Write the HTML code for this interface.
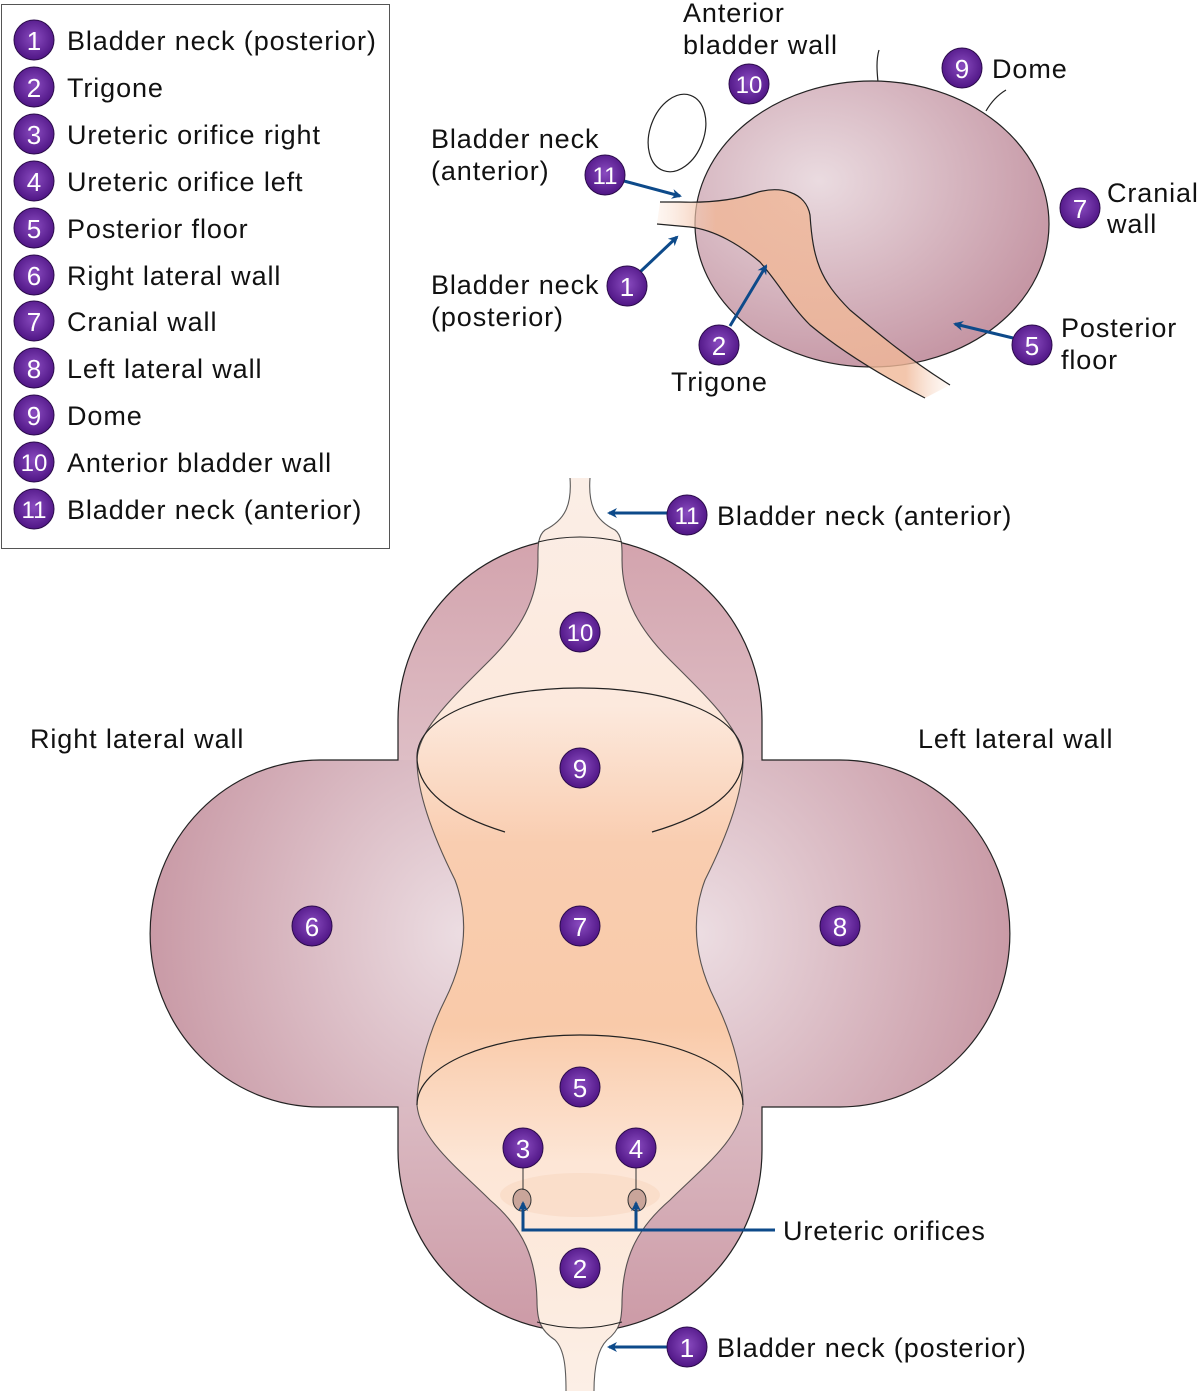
<!DOCTYPE html>
<html><head><meta charset="utf-8"><style>
html,body{margin:0;padding:0;background:#fff;}
svg{display:block;}
text{font-family:"Liberation Sans",sans-serif;}
.t{letter-spacing:0.9px;}
</style></head><body>
<svg width="1200" height="1391" viewBox="0 0 1200 1391" xmlns="http://www.w3.org/2000/svg">
<defs>
<radialGradient id="badge" cx="50%" cy="45%" r="55%"><stop offset="0" stop-color="#8a4cc0"/><stop offset="1" stop-color="#4f1585"/></radialGradient>
<radialGradient id="pinkL" cx="100%" cy="50%" r="100%"><stop offset="0" stop-color="#ecdde2"/><stop offset="1" stop-color="#c99aa6"/></radialGradient>
<radialGradient id="pinkR" cx="0%" cy="50%" r="100%"><stop offset="0" stop-color="#ecdde2"/><stop offset="1" stop-color="#c99aa6"/></radialGradient>
<linearGradient id="pinkV" x1="0" y1="0" x2="0" y2="1"><stop offset="0" stop-color="#d3a3ad"/><stop offset="0.5" stop-color="#e6d3d8"/><stop offset="1" stop-color="#cc9aa6"/></linearGradient>
<linearGradient id="peach" x1="0" y1="0" x2="0" y2="1"><stop offset="0" stop-color="#fbeee6"/><stop offset="0.25" stop-color="#fce9dd"/><stop offset="0.4" stop-color="#f9cdb0"/><stop offset="0.6" stop-color="#f9caa9"/><stop offset="0.75" stop-color="#fde6d6"/><stop offset="1" stop-color="#fcefe6"/></linearGradient>
<radialGradient id="ball" cx="35%" cy="35%" r="70%"><stop offset="0" stop-color="#eadbe0"/><stop offset="1" stop-color="#c596a4"/></radialGradient>
<linearGradient id="band" x1="0" y1="0" x2="1" y2="0"><stop offset="0" stop-color="#fbe3d3" stop-opacity="0.3"/><stop offset="0.2" stop-color="#efb79a" stop-opacity="0.85"/><stop offset="0.85" stop-color="#f0b898" stop-opacity="0.8"/><stop offset="1" stop-color="#fbe3d3" stop-opacity="0.2"/></linearGradient>
<marker id="ah" markerWidth="10" markerHeight="10" refX="8" refY="5" orient="auto" markerUnits="userSpaceOnUse"><path d="M0,0 L10,5 L0,10 L3,5 Z" fill="#0d4a8a"/></marker>
<g id="b"><circle r="20" fill="url(#badge)" stroke="#2c0c4c" stroke-width="1"/></g>
</defs>

<!-- legend -->
<rect x="1.5" y="4.5" width="388" height="544" fill="#fff" stroke="#555" stroke-width="1"/>
<g font-size="27" fill="#111">
<g transform="translate(34,40)"><use href="#b"/><text y="10" text-anchor="middle" fill="#fff" font-size="26">1</text><text class="t" x="33" y="10">Bladder neck (posterior)</text></g>
<g transform="translate(34,87)"><use href="#b"/><text y="10" text-anchor="middle" fill="#fff" font-size="26">2</text><text class="t" x="33" y="10">Trigone</text></g>
<g transform="translate(34,134)"><use href="#b"/><text y="10" text-anchor="middle" fill="#fff" font-size="26">3</text><text class="t" x="33" y="10">Ureteric orifice right</text></g>
<g transform="translate(34,181)"><use href="#b"/><text y="10" text-anchor="middle" fill="#fff" font-size="26">4</text><text class="t" x="33" y="10">Ureteric orifice left</text></g>
<g transform="translate(34,228)"><use href="#b"/><text y="10" text-anchor="middle" fill="#fff" font-size="26">5</text><text class="t" x="33" y="10">Posterior floor</text></g>
<g transform="translate(34,275)"><use href="#b"/><text y="10" text-anchor="middle" fill="#fff" font-size="26">6</text><text class="t" x="33" y="10">Right lateral wall</text></g>
<g transform="translate(34,321)"><use href="#b"/><text y="10" text-anchor="middle" fill="#fff" font-size="26">7</text><text class="t" x="33" y="10">Cranial wall</text></g>
<g transform="translate(34,368)"><use href="#b"/><text y="10" text-anchor="middle" fill="#fff" font-size="26">8</text><text class="t" x="33" y="10">Left lateral wall</text></g>
<g transform="translate(34,415)"><use href="#b"/><text y="10" text-anchor="middle" fill="#fff" font-size="26">9</text><text class="t" x="33" y="10">Dome</text></g>
<g transform="translate(34,462)"><use href="#b"/><text y="9" text-anchor="middle" fill="#fff" font-size="24">10</text><text class="t" x="33" y="10">Anterior bladder wall</text></g>
<g transform="translate(34,509)"><use href="#b"/><text y="9" text-anchor="middle" fill="#fff" font-size="24">11</text><text class="t" x="33" y="10">Bladder neck (anterior)</text></g>
</g>

<!-- top right diagram -->
<ellipse cx="677" cy="133" rx="27" ry="40" transform="rotate(20 677 133)" fill="none" stroke="#222" stroke-width="1.2"/>
<path d="M879,50 C876,60 877,72 878,82" fill="none" stroke="#222" stroke-width="1.2"/>
<path d="M1006,90 C996,96 990,104 986,111" fill="none" stroke="#222" stroke-width="1.2"/>
<ellipse cx="872" cy="224" rx="177" ry="143" fill="url(#ball)" stroke="#222" stroke-width="1.2"/>
<path d="M660,202 L680,202 C710,203 735,200 755,193 C780,185 806,192 810,215 C813,260 820,280 850,310 C880,335 910,360 950,385 L925,398 C880,375 840,350 810,325 C790,305 780,285 760,262 C740,245 715,230 690,227 L657,224 Z" fill="url(#band)"/>
<path d="M660,202 L680,202 C710,203 735,200 755,193 C780,185 806,192 810,215 C813,260 820,280 850,310 C880,335 910,360 950,385" fill="none" stroke="#222" stroke-width="1.2"/>
<path d="M657,224 L690,227 C715,230 740,245 760,262 C780,285 790,305 810,325 C840,350 880,375 925,398" fill="none" stroke="#222" stroke-width="1.2"/>
<g fill="none" stroke="#0d4a8a" stroke-width="3">
<line x1="624" y1="181" x2="680" y2="196" marker-end="url(#ah)"/>
<line x1="640" y1="272" x2="677" y2="237" marker-end="url(#ah)"/>
<line x1="730" y1="326" x2="766" y2="266" marker-end="url(#ah)"/>
<line x1="1013" y1="338" x2="955" y2="324" marker-end="url(#ah)"/>
</g>
<g font-size="27" fill="#111" class="t">
<text x="683" y="22">Anterior</text>
<text x="683" y="54">bladder wall</text>
<text x="431" y="148">Bladder neck</text>
<text x="431" y="180">(anterior)</text>
<text x="431" y="294">Bladder neck</text>
<text x="431" y="326">(posterior)</text>
<text x="671" y="391">Trigone</text>
<text x="992" y="78">Dome</text>
<text x="1107" y="202">Cranial</text>
<text x="1107" y="233">wall</text>
<text x="1061" y="337">Posterior</text>
<text x="1061" y="369">floor</text>
</g>
<g transform="translate(749,84)"><use href="#b"/><text y="9" text-anchor="middle" fill="#fff" font-size="24">10</text></g>
<g transform="translate(962,68)"><use href="#b"/><text y="10" text-anchor="middle" fill="#fff" font-size="26">9</text></g>
<g transform="translate(605,175)"><use href="#b"/><text y="9" text-anchor="middle" fill="#fff" font-size="24">11</text></g>
<g transform="translate(627,286)"><use href="#b"/><text y="10" text-anchor="middle" fill="#fff" font-size="26">1</text></g>
<g transform="translate(719,345)"><use href="#b"/><text y="10" text-anchor="middle" fill="#fff" font-size="26">2</text></g>
<g transform="translate(1080,208)"><use href="#b"/><text y="10" text-anchor="middle" fill="#fff" font-size="26">7</text></g>
<g transform="translate(1032,345)"><use href="#b"/><text y="10" text-anchor="middle" fill="#fff" font-size="26">5</text></g>

<!-- bottom cross diagram -->
<path d="M398,760 L398,720 A182,182 0 0 1 762,720 L762,760 L840,760 A170,173.5 0 0 1 840,1107 L762,1107 L762,1150 A182,182 0 0 1 398,1150 L398,1107 L320,1107 A170,173.5 0 0 1 320,760 Z" fill="url(#pinkV)"/>
<path d="M462,760 L320,760 A170,173.5 0 0 0 320,1107 L462,1107 Z" fill="url(#pinkL)"/>
<path d="M698,760 L840,760 A170,173.5 0 0 1 840,1107 L698,1107 Z" fill="url(#pinkR)"/>
<path d="M398,760 L398,720 A182,182 0 0 1 762,720 L762,760 L840,760 A170,173.5 0 0 1 840,1107 L762,1107 L762,1150 A182,182 0 0 1 398,1150 L398,1107 L320,1107 A170,173.5 0 0 1 320,760 Z" fill="none" stroke="#222" stroke-width="1.2"/>
<!-- peach hourglass -->
<path d="M570,478 C572,505 565,520 545,530 C537,536 538,550 538,560 C538,600 520,630 490,660 C450,700 418,730 417,760 C417,800 440,850 455,880 C470,920 465,960 445,1000 C425,1040 417,1080 417,1105 C420,1140 460,1170 490,1200 C525,1230 536,1260 537,1300 C537,1320 540,1330 555,1340 C565,1350 566,1370 566,1391 L594,1391 C594,1370 597,1350 607,1340 C620,1330 622,1320 622,1300 C623,1260 635,1230 670,1200 C700,1170 740,1140 743,1105 C743,1080 735,1040 715,1000 C695,960 690,920 705,880 C720,850 743,800 743,760 C742,730 710,700 670,660 C640,630 622,600 622,560 C622,550 623,536 615,530 C595,520 588,505 590,478 Z" fill="url(#peach)"/>
<path d="M570,478 C572,505 565,520 545,530 C537,536 538,550 538,560 C538,600 520,630 490,660 C450,700 418,730 417,760 C417,800 440,850 455,880 C470,920 465,960 445,1000 C425,1040 417,1080 417,1105 C420,1140 460,1170 490,1200 C525,1230 536,1260 537,1300 C537,1320 540,1330 555,1340 C565,1350 566,1370 566,1391" fill="none" stroke="#333" stroke-width="1.1" stroke-opacity="0.8"/>
<path d="M590,478 C588,505 595,520 615,530 C623,536 622,550 622,560 C622,600 640,630 670,660 C710,700 742,730 743,760 C743,800 720,850 705,880 C690,920 695,960 715,1000 C735,1040 743,1080 743,1105 C740,1140 700,1170 670,1200 C635,1230 623,1260 622,1300 C622,1320 620,1330 607,1340 C597,1350 594,1370 594,1391" fill="none" stroke="#333" stroke-width="1.1" stroke-opacity="0.8"/>
<path d="M538,542 Q580,532 622,542" fill="none" stroke="#222" stroke-width="1"/>
<path d="M537,1322 Q580,1334 622,1322" fill="none" stroke="#222" stroke-width="1"/>
<!-- ellipse 9 -->
<path d="M505,832 C450,815 417,790 417,757 C417,715 490,688 580,688 C670,688 743,715 743,757 C743,790 710,815 652,832" fill="none" stroke="#222" stroke-width="1.2"/>
<!-- ellipse 5 top -->
<path d="M417,1105 C417,1065 490,1035 580,1035 C670,1035 743,1065 743,1105" fill="none" stroke="#222" stroke-width="1.2"/>
<!-- trigone band -->
<ellipse cx="580" cy="1195" rx="80" ry="22" fill="#f7d2bb" opacity="0.45"/>
<ellipse cx="522" cy="1200" rx="9" ry="11" fill="#c9a59a" stroke="#333" stroke-width="1"/>
<ellipse cx="637" cy="1200" rx="9" ry="11" fill="#c9a59a" stroke="#333" stroke-width="1"/>
<line x1="523" y1="1168" x2="523" y2="1190" stroke="#333" stroke-width="1"/>
<line x1="636" y1="1168" x2="636" y2="1190" stroke="#333" stroke-width="1"/>
<g fill="none" stroke="#0d4a8a" stroke-width="3">
<polyline points="775,1230 523,1230 523,1203" marker-end="url(#ah)"/>
<line x1="636" y1="1230" x2="636" y2="1203" marker-end="url(#ah)"/>
<line x1="668" y1="513" x2="609" y2="513" marker-end="url(#ah)"/>
<line x1="668" y1="1347" x2="609" y2="1347" marker-end="url(#ah)"/>
</g>
<g transform="translate(580,632)"><use href="#b"/><text y="9" text-anchor="middle" fill="#fff" font-size="24">10</text></g>
<g transform="translate(580,768)"><use href="#b"/><text y="10" text-anchor="middle" fill="#fff" font-size="26">9</text></g>
<g transform="translate(580,926)"><use href="#b"/><text y="10" text-anchor="middle" fill="#fff" font-size="26">7</text></g>
<g transform="translate(312,926)"><use href="#b"/><text y="10" text-anchor="middle" fill="#fff" font-size="26">6</text></g>
<g transform="translate(840,926)"><use href="#b"/><text y="10" text-anchor="middle" fill="#fff" font-size="26">8</text></g>
<g transform="translate(580,1087)"><use href="#b"/><text y="10" text-anchor="middle" fill="#fff" font-size="26">5</text></g>
<g transform="translate(523,1148)"><use href="#b"/><text y="10" text-anchor="middle" fill="#fff" font-size="26">3</text></g>
<g transform="translate(636,1148)"><use href="#b"/><text y="10" text-anchor="middle" fill="#fff" font-size="26">4</text></g>
<g transform="translate(580,1268)"><use href="#b"/><text y="10" text-anchor="middle" fill="#fff" font-size="26">2</text></g>
<g transform="translate(687,515)"><use href="#b"/><text y="9" text-anchor="middle" fill="#fff" font-size="24">11</text></g>
<g transform="translate(687,1347)"><use href="#b"/><text y="10" text-anchor="middle" fill="#fff" font-size="26">1</text></g>
<g font-size="27" fill="#111" class="t">
<text x="717" y="525">Bladder neck (anterior)</text>
<text x="717" y="1357">Bladder neck (posterior)</text>
<text x="783" y="1240">Ureteric orifices</text>
<text x="30" y="748">Right lateral wall</text>
<text x="918" y="748">Left lateral wall</text>
</g>
</svg>
</body></html>
